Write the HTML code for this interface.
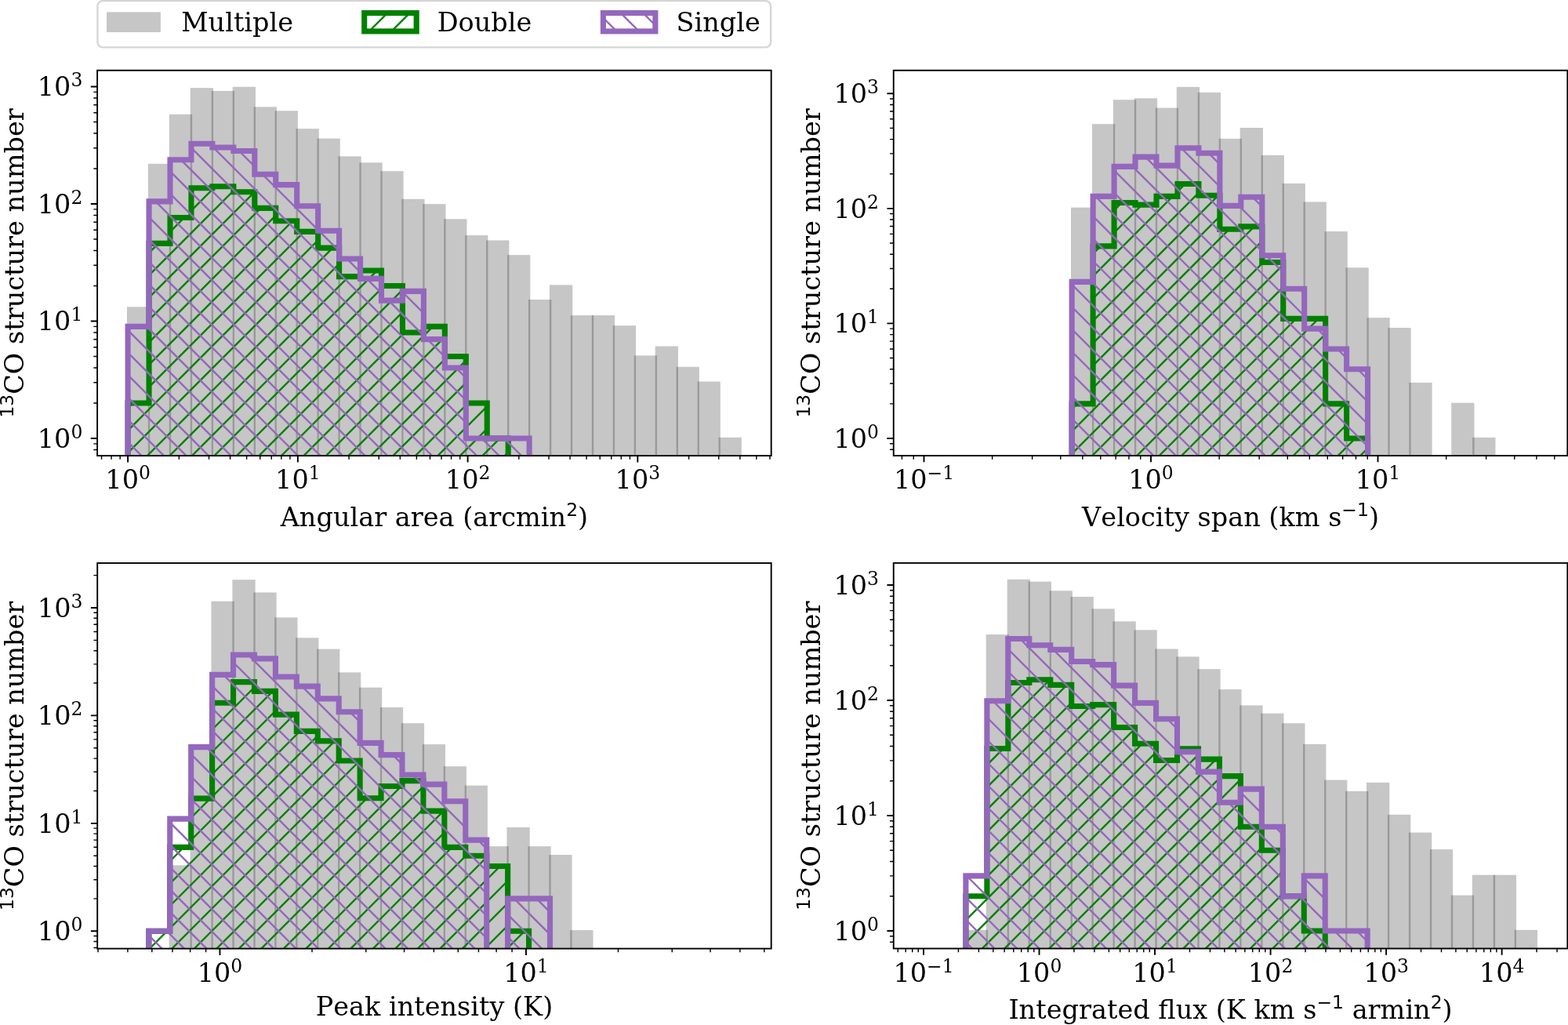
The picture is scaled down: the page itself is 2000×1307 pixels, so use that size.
<!DOCTYPE html><html><head><meta charset="utf-8"><title>13CO structure histograms</title><style>html,body{margin:0;padding:0;background:#fff;overflow:hidden}svg{display:block}text{font-kerning:none}</style></head><body><svg width="2000" height="1307" viewBox="0 0 2000 1307"><defs><clipPath id="cp1"><rect x="124.1" y="89.75" width="859.6" height="491.35"/></clipPath><clipPath id="hp1green"><path d="M163.1 601.1L163.1 514L190.05 514L190.05 310.42L217 310.42L217 277.56L243.95 277.56L243.95 239.7L270.9 239.7L270.9 237.69L297.85 237.69L297.85 244.79L324.8 244.79L324.8 265.34L351.75 265.34L351.75 281.69L378.7 281.69L378.7 295.37L405.65 295.37L405.65 316.17L432.6 316.17L432.6 352.66L459.55 352.66L459.55 345.01L486.5 345.01L486.5 364.5L513.45 364.5L513.45 423.99L540.4 423.99L540.4 416.34L567.35 416.34L567.35 454.5L594.3 454.5L594.3 514L621.25 514L621.25 559L648.2 559L648.2 601.1Z"/></clipPath><clipPath id="hp1purple"><path d="M163.1 601.1L163.1 416.34L190.05 416.34L190.05 256.83L217 256.83L217 203.81L243.95 203.81L243.95 183.27L270.9 183.27L270.9 188.02L297.85 188.02L297.85 192.46L324.8 192.46L324.8 222.2L351.75 222.2L351.75 235.61L378.7 235.61L378.7 262.79L405.65 262.79L405.65 294.26L432.6 294.26L432.6 330.04L459.55 330.04L459.55 355.42L486.5 355.42L486.5 383.17L513.45 383.17L513.45 371.34L540.4 371.34L540.4 432.66L567.35 432.66L567.35 468.99L594.3 468.99L594.3 559L621.25 559L621.25 559L648.2 559L648.2 559L675.15 559L675.15 601.1Z"/></clipPath><clipPath id="cp2"><rect x="1139.75" y="89.75" width="859.6" height="491.3"/></clipPath><clipPath id="hp2green"><path d="M1367.18 601.05L1367.18 514.88L1394.14 514.88L1394.14 313.9L1421.1 313.9L1421.1 258.51L1448.05 258.51L1448.05 261.18L1475.01 261.18L1475.01 250.32L1501.96 250.32L1501.96 234.5L1528.91 234.5L1528.91 249.29L1555.87 249.29L1555.87 292.29L1582.83 292.29L1582.83 288.91L1609.78 288.91L1609.78 334.52L1636.73 334.52L1636.73 406.35L1663.69 406.35L1663.69 406.35L1690.64 406.35L1690.64 514.88L1717.6 514.88L1717.6 559L1744.55 559L1744.55 601.05Z"/></clipPath><clipPath id="hp2purple"><path d="M1367.18 601.05L1367.18 359.4L1394.14 359.4L1394.14 250.32L1421.1 250.32L1421.1 212.38L1448.05 212.38L1448.05 200.09L1475.01 200.09L1475.01 211.18L1501.96 211.18L1501.96 188.78L1528.91 188.78L1528.91 195.21L1555.87 195.21L1555.87 262.37L1582.83 262.37L1582.83 251.28L1609.78 251.28L1609.78 325.78L1636.73 325.78L1636.73 368.3L1663.69 368.3L1663.69 419.13L1690.64 419.13L1690.64 444.94L1717.6 444.94L1717.6 470.75L1744.55 470.75L1744.55 601.05Z"/></clipPath><clipPath id="cp3"><rect x="124.2" y="718" width="859.5" height="491.6"/></clipPath><clipPath id="hp3green"><path d="M162.9 1229.6L162.9 1229.6L189.83 1229.6L189.83 1187.25L216.76 1187.25L216.76 1080.32L243.69 1080.32L243.69 1018.16L270.62 1018.16L270.62 896.2L297.55 896.2L297.55 869.63L324.48 869.63L324.48 881.41L351.41 881.41L351.41 911.11L378.34 911.11L378.34 932.35L405.27 932.35L405.27 944.82L432.2 944.82L432.2 970L459.13 970L459.13 1017.81L486.06 1017.81L486.06 1002.5L512.99 1002.5L512.99 995.62L539.92 995.62L539.92 1034.17L566.85 1034.17L566.85 1080.32L593.78 1080.32L593.78 1091.2L620.71 1091.2L620.71 1104.51L647.64 1104.51L647.64 1187.25L674.57 1187.25L674.57 1229.6Z"/></clipPath><clipPath id="hp3purple"><path d="M162.9 1229.6L162.9 1229.6L189.83 1229.6L189.83 1187.25L216.76 1187.25L216.76 1044.14L243.69 1044.14L243.69 952.6L270.62 952.6L270.62 860.41L297.55 860.41L297.55 834.98L324.48 834.98L324.48 839.9L351.41 839.9L351.41 862.96L378.34 862.96L378.34 875.18L405.27 875.18L405.27 890.86L432.2 890.86L432.2 907.71L459.13 907.71L459.13 947.33L486.06 947.33L486.06 962.64L512.99 962.64L512.99 987.96L539.92 987.96L539.92 1000.12L566.85 1000.12L566.85 1021.78L593.78 1021.78L593.78 1071.12L620.71 1071.12L620.71 1229.6L647.64 1229.6L647.64 1145.88L674.57 1145.88L674.57 1145.88L701.5 1145.88L701.5 1229.6Z"/></clipPath><clipPath id="cp4"><rect x="1139.75" y="717.9" width="859.6" height="491.6"/></clipPath><clipPath id="hp4green"><path d="M1178 1229.5L1178 1229.5L1204.96 1229.5L1204.96 1229.5L1231.92 1229.5L1231.92 1142.75L1258.88 1142.75L1258.88 954.44L1285.84 954.44L1285.84 870.48L1312.8 870.48L1312.8 866.69L1339.76 866.69L1339.76 873.32L1366.72 873.32L1366.72 900.51L1393.68 900.51L1393.68 898.67L1420.64 898.67L1420.64 927.45L1447.6 927.45L1447.6 948.23L1474.56 948.23L1474.56 969.44L1501.52 969.44L1501.52 954.77L1528.48 954.77L1528.48 968.18L1555.44 968.18L1555.44 989.66L1582.4 989.66L1582.4 1054.25L1609.36 1054.25L1609.36 1084.25L1636.32 1084.25L1636.32 1142.75L1663.28 1142.75L1663.28 1187L1690.24 1187L1690.24 1229.5Z"/></clipPath><clipPath id="hp4purple"><path d="M1178 1229.5L1178 1229.5L1204.96 1229.5L1204.96 1229.5L1231.92 1229.5L1231.92 1116.86L1258.88 1116.86L1258.88 893.71L1285.84 893.71L1285.84 814.5L1312.8 814.5L1312.8 822.8L1339.76 822.8L1339.76 828.35L1366.72 828.35L1366.72 843.48L1393.68 843.48L1393.68 847.61L1420.64 847.61L1420.64 874.13L1447.6 874.13L1447.6 896.41L1474.56 896.41L1474.56 916.69L1501.52 916.69L1501.52 958.58L1528.48 958.58L1528.48 984.11L1555.44 984.11L1555.44 1023.25L1582.4 1023.25L1582.4 1006.12L1609.36 1006.12L1609.36 1054.25L1636.32 1054.25L1636.32 1142.75L1663.28 1142.75L1663.28 1116.86L1690.24 1116.86L1690.24 1187L1717.2 1187L1717.2 1187L1744.16 1187L1744.16 1229.5Z"/></clipPath><clipPath id="lg1"><rect x="464.7" y="16.6" width="66.5" height="23.3"/></clipPath><clipPath id="lg2"><rect x="769.4" y="16.6" width="66.5" height="23.3"/></clipPath></defs><rect width="2000" height="1307" fill="#fff"/><g clip-path="url(#cp1)"><g fill="#000000" fill-opacity="0.2235"><rect x="161.91" y="391.28" width="29.32" height="199.82"/><rect x="188.86" y="208.81" width="29.33" height="382.29"/><rect x="215.81" y="145.81" width="29.32" height="445.29"/><rect x="242.76" y="112.1" width="29.32" height="479"/><rect x="269.71" y="115.94" width="29.33" height="475.16"/><rect x="296.66" y="110.69" width="29.32" height="480.41"/><rect x="323.61" y="136.29" width="29.33" height="454.81"/><rect x="350.56" y="141.3" width="29.32" height="449.8"/><rect x="377.51" y="164.11" width="29.32" height="426.99"/><rect x="404.46" y="176.55" width="29.33" height="414.55"/><rect x="431.41" y="199.32" width="29.32" height="391.78"/><rect x="458.36" y="207.33" width="29.33" height="383.77"/><rect x="485.31" y="218.17" width="29.32" height="372.93"/><rect x="512.26" y="253.82" width="29.33" height="337.28"/><rect x="539.21" y="260.12" width="29.33" height="330.98"/><rect x="566.16" y="279.25" width="29.32" height="311.85"/><rect x="593.11" y="300.03" width="29.33" height="291.07"/><rect x="620.06" y="306.47" width="29.32" height="284.63"/><rect x="647.01" y="325.15" width="29.33" height="265.95"/><rect x="673.96" y="381.99" width="29.33" height="209.11"/><rect x="700.91" y="363.31" width="29.32" height="227.79"/><rect x="727.86" y="402.12" width="29.33" height="188.98"/><rect x="754.81" y="402.12" width="29.33" height="188.98"/><rect x="781.76" y="415.15" width="29.32" height="175.95"/><rect x="808.71" y="453.32" width="29.33" height="137.78"/><rect x="835.66" y="441.48" width="29.32" height="149.62"/><rect x="862.61" y="467.8" width="29.33" height="123.3"/><rect x="889.56" y="486.48" width="29.33" height="104.62"/><rect x="916.51" y="557.81" width="29.32" height="33.29"/></g><g clip-path="url(#hp1green)"><path d="M158.1 211.9L653.2 -283.2M158.1 240.4L653.2 -254.7M158.1 268.9L653.2 -226.2M158.1 297.4L653.2 -197.7M158.1 325.9L653.2 -169.2M158.1 354.4L653.2 -140.7M158.1 382.9L653.2 -112.2M158.1 411.4L653.2 -83.7M158.1 439.9L653.2 -55.2M158.1 468.4L653.2 -26.7M158.1 496.9L653.2 1.8M158.1 525.4L653.2 30.3M158.1 553.9L653.2 58.8M158.1 582.4L653.2 87.3M158.1 610.9L653.2 115.8M158.1 639.4L653.2 144.3M158.1 667.9L653.2 172.8M158.1 696.4L653.2 201.3M158.1 724.9L653.2 229.8M158.1 753.4L653.2 258.3M158.1 781.9L653.2 286.8M158.1 810.4L653.2 315.3M158.1 838.9L653.2 343.8M158.1 867.4L653.2 372.3M158.1 895.9L653.2 400.8M158.1 924.4L653.2 429.3M158.1 952.9L653.2 457.8M158.1 981.4L653.2 486.3M158.1 1009.9L653.2 514.8M158.1 1038.4L653.2 543.3M158.1 1066.9L653.2 571.8M158.1 1095.4L653.2 600.3M158.1 1123.9L653.2 628.8" stroke="#008000" stroke-width="2.38" fill="none"/></g><path d="M163.1 601.1L163.1 514L190.05 514L190.05 310.42L217 310.42L217 277.56L243.95 277.56L243.95 239.7L270.9 239.7L270.9 237.69L297.85 237.69L297.85 244.79L324.8 244.79L324.8 265.34L351.75 265.34L351.75 281.69L378.7 281.69L378.7 295.37L405.65 295.37L405.65 316.17L432.6 316.17L432.6 352.66L459.55 352.66L459.55 345.01L486.5 345.01L486.5 364.5L513.45 364.5L513.45 423.99L540.4 423.99L540.4 416.34L567.35 416.34L567.35 454.5L594.3 454.5L594.3 514L621.25 514L621.25 559L648.2 559L648.2 601.1" fill="none" stroke="#008000" stroke-width="7.12" stroke-linejoin="miter" stroke-miterlimit="10"/><g clip-path="url(#hp1purple)"><path d="M158.1 -381.9L680.15 140.15M158.1 -353.4L680.15 168.65M158.1 -324.9L680.15 197.15M158.1 -296.4L680.15 225.65M158.1 -267.9L680.15 254.15M158.1 -239.4L680.15 282.65M158.1 -210.9L680.15 311.15M158.1 -182.4L680.15 339.65M158.1 -153.9L680.15 368.15M158.1 -125.4L680.15 396.65M158.1 -96.9L680.15 425.15M158.1 -68.4L680.15 453.65M158.1 -39.9L680.15 482.15M158.1 -11.4L680.15 510.65M158.1 17.1L680.15 539.15M158.1 45.6L680.15 567.65M158.1 74.1L680.15 596.15M158.1 102.6L680.15 624.65M158.1 131.1L680.15 653.15M158.1 159.6L680.15 681.65M158.1 188.1L680.15 710.15M158.1 216.6L680.15 738.65M158.1 245.1L680.15 767.15M158.1 273.6L680.15 795.65M158.1 302.1L680.15 824.15M158.1 330.6L680.15 852.65M158.1 359.1L680.15 881.15M158.1 387.6L680.15 909.65M158.1 416.1L680.15 938.15M158.1 444.6L680.15 966.65M158.1 473.1L680.15 995.15M158.1 501.6L680.15 1023.65M158.1 530.1L680.15 1052.15M158.1 558.6L680.15 1080.65M158.1 587.1L680.15 1109.15M158.1 615.6L680.15 1137.65" stroke="#9467bd" stroke-width="2.38" fill="none"/></g><path d="M163.1 601.1L163.1 416.34L190.05 416.34L190.05 256.83L217 256.83L217 203.81L243.95 203.81L243.95 183.27L270.9 183.27L270.9 188.02L297.85 188.02L297.85 192.46L324.8 192.46L324.8 222.2L351.75 222.2L351.75 235.61L378.7 235.61L378.7 262.79L405.65 262.79L405.65 294.26L432.6 294.26L432.6 330.04L459.55 330.04L459.55 355.42L486.5 355.42L486.5 383.17L513.45 383.17L513.45 371.34L540.4 371.34L540.4 432.66L567.35 432.66L567.35 468.99L594.3 468.99L594.3 559L621.25 559L621.25 559L648.2 559L648.2 559L675.15 559L675.15 601.1" fill="none" stroke="#9467bd" stroke-width="7.12" stroke-linejoin="miter" stroke-miterlimit="10"/></g><rect x="124.1" y="89.75" width="859.6" height="491.35" fill="none" stroke="#000" stroke-width="1.9" stroke-linejoin="miter"/><path d="M163.1 581.1v8.31M379.85 581.1v8.31M596.6 581.1v8.31M813.35 581.1v8.31M124.1 559h-8.31M124.1 409.5h-8.31M124.1 260h-8.31M124.1 110.5h-8.31" stroke="#000" stroke-width="1.9" fill="none"/><path d="M129.53 581.1v4.75M142.09 581.1v4.75M153.18 581.1v4.75M228.35 581.1v4.75M266.52 581.1v4.75M293.6 581.1v4.75M314.6 581.1v4.75M331.76 581.1v4.75M346.28 581.1v4.75M358.84 581.1v4.75M369.93 581.1v4.75M445.1 581.1v4.75M483.27 581.1v4.75M510.35 581.1v4.75M531.35 581.1v4.75M548.51 581.1v4.75M563.03 581.1v4.75M575.59 581.1v4.75M586.68 581.1v4.75M661.85 581.1v4.75M700.02 581.1v4.75M727.1 581.1v4.75M748.1 581.1v4.75M765.26 581.1v4.75M779.78 581.1v4.75M792.34 581.1v4.75M803.43 581.1v4.75M878.6 581.1v4.75M916.77 581.1v4.75M943.85 581.1v4.75M964.85 581.1v4.75M982.01 581.1v4.75M124.1 573.49h-4.75M124.1 565.84h-4.75M124.1 514h-4.75M124.1 487.67h-4.75M124.1 468.99h-4.75M124.1 454.5h-4.75M124.1 442.67h-4.75M124.1 432.66h-4.75M124.1 423.99h-4.75M124.1 416.34h-4.75M124.1 364.5h-4.75M124.1 338.17h-4.75M124.1 319.49h-4.75M124.1 305h-4.75M124.1 293.17h-4.75M124.1 283.16h-4.75M124.1 274.49h-4.75M124.1 266.84h-4.75M124.1 215h-4.75M124.1 188.67h-4.75M124.1 169.99h-4.75M124.1 155.5h-4.75M124.1 143.67h-4.75M124.1 133.66h-4.75M124.1 124.99h-4.75M124.1 117.34h-4.75" stroke="#000" stroke-width="1.43" fill="none"/><g font-family="'DejaVu Serif', serif" font-size="33.5" fill="#000"><text x="163.1" y="623.1" text-anchor="middle">10<tspan font-size="23.45" dy="-12">0</tspan></text><text x="379.85" y="623.1" text-anchor="middle">10<tspan font-size="23.45" dy="-12">1</tspan></text><text x="596.6" y="623.1" text-anchor="middle">10<tspan font-size="23.45" dy="-12">2</tspan></text><text x="813.35" y="623.1" text-anchor="middle">10<tspan font-size="23.45" dy="-12">3</tspan></text><text x="105.3" y="570.75" text-anchor="end">10<tspan font-size="23.45" dy="-12">0</tspan></text><text x="105.3" y="421.25" text-anchor="end">10<tspan font-size="23.45" dy="-12">1</tspan></text><text x="105.3" y="271.75" text-anchor="end">10<tspan font-size="23.45" dy="-12">2</tspan></text><text x="105.3" y="122.25" text-anchor="end">10<tspan font-size="23.45" dy="-12">3</tspan></text></g><text x="553.9" y="671.3" text-anchor="middle" font-family="'DejaVu Serif', serif" font-size="33.5">Angular area (arcmin<tspan font-family="'DejaVu Sans', sans-serif" font-size="23.45" dy="-13">2</tspan><tspan dy="13">)</tspan></text><text transform="translate(30.3 335.43) rotate(-90)" x="0" y="0" text-anchor="middle" font-family="'DejaVu Serif', serif" font-size="33.5"><tspan font-family="'DejaVu Sans', sans-serif" font-size="23.45" dy="-13">13</tspan><tspan dy="13">CO structure number</tspan></text><g clip-path="url(#cp2)"><g fill="#000000" fill-opacity="0.2235"><rect x="1366" y="264.65" width="29.33" height="326.4"/><rect x="1392.95" y="158.13" width="29.33" height="432.92"/><rect x="1419.91" y="127.23" width="29.33" height="463.82"/><rect x="1446.86" y="125.28" width="29.33" height="465.77"/><rect x="1473.82" y="137.59" width="29.33" height="453.46"/><rect x="1500.77" y="110.86" width="29.33" height="480.19"/><rect x="1527.73" y="117.88" width="29.33" height="473.17"/><rect x="1554.68" y="176.88" width="29.33" height="414.17"/><rect x="1581.64" y="162.97" width="29.33" height="428.08"/><rect x="1608.59" y="197.98" width="29.33" height="393.07"/><rect x="1635.55" y="233.94" width="29.33" height="357.11"/><rect x="1662.5" y="257.44" width="29.33" height="333.61"/><rect x="1689.46" y="295.08" width="29.33" height="295.97"/><rect x="1716.41" y="341.3" width="29.33" height="249.75"/><rect x="1743.37" y="405.17" width="29.33" height="185.88"/><rect x="1770.32" y="417.94" width="29.33" height="173.11"/><rect x="1797.28" y="487.88" width="29.33" height="103.17"/><rect x="1851.19" y="513.69" width="29.33" height="77.36"/><rect x="1878.14" y="557.81" width="29.33" height="33.24"/></g><g clip-path="url(#hp2green)"><path d="M1362.18 184.52L1749.55 -202.85M1362.18 213.02L1749.55 -174.35M1362.18 241.52L1749.55 -145.85M1362.18 270.02L1749.55 -117.35M1362.18 298.52L1749.55 -88.85M1362.18 327.02L1749.55 -60.35M1362.18 355.52L1749.55 -31.85M1362.18 384.02L1749.55 -3.35M1362.18 412.52L1749.55 25.15M1362.18 441.02L1749.55 53.65M1362.18 469.52L1749.55 82.15M1362.18 498.02L1749.55 110.65M1362.18 526.52L1749.55 139.15M1362.18 555.02L1749.55 167.65M1362.18 583.52L1749.55 196.15M1362.18 612.02L1749.55 224.65M1362.18 640.52L1749.55 253.15M1362.18 669.02L1749.55 281.65M1362.18 697.51L1749.55 310.14M1362.18 726.01L1749.55 338.64M1362.18 754.51L1749.55 367.14M1362.18 783.01L1749.55 395.64M1362.18 811.51L1749.55 424.14M1362.18 840.01L1749.55 452.64M1362.18 868.51L1749.55 481.14M1362.18 897.01L1749.55 509.64M1362.18 925.51L1749.55 538.14M1362.18 954.01L1749.55 566.64M1362.18 982.51L1749.55 595.14M1362.18 1011.01L1749.55 623.64" stroke="#008000" stroke-width="2.38" fill="none"/></g><path d="M1367.18 601.05L1367.18 514.88L1394.14 514.88L1394.14 313.9L1421.1 313.9L1421.1 258.51L1448.05 258.51L1448.05 261.18L1475.01 261.18L1475.01 250.32L1501.96 250.32L1501.96 234.5L1528.91 234.5L1528.91 249.29L1555.87 249.29L1555.87 292.29L1582.83 292.29L1582.83 288.91L1609.78 288.91L1609.78 334.52L1636.73 334.52L1636.73 406.35L1663.69 406.35L1663.69 406.35L1690.64 406.35L1690.64 514.88L1717.6 514.88L1717.6 559L1744.55 559L1744.55 601.05" fill="none" stroke="#008000" stroke-width="7.12" stroke-linejoin="miter" stroke-miterlimit="10"/><g clip-path="url(#hp2purple)"><path d="M1362.18 -240.65L1749.55 146.71M1362.18 -212.15L1749.55 175.21M1362.18 -183.65L1749.55 203.71M1362.18 -155.15L1749.55 232.21M1362.18 -126.65L1749.55 260.71M1362.18 -98.15L1749.55 289.21M1362.18 -69.65L1749.55 317.71M1362.18 -41.15L1749.55 346.21M1362.18 -12.65L1749.55 374.71M1362.18 15.85L1749.55 403.21M1362.18 44.35L1749.55 431.71M1362.18 72.85L1749.55 460.21M1362.18 101.35L1749.55 488.71M1362.18 129.85L1749.55 517.21M1362.18 158.35L1749.55 545.71M1362.18 186.85L1749.55 574.21M1362.18 215.35L1749.55 602.71M1362.18 243.85L1749.55 631.21M1362.18 272.35L1749.55 659.71M1362.18 300.85L1749.55 688.21M1362.18 329.35L1749.55 716.71M1362.18 357.84L1749.55 745.21M1362.18 386.34L1749.55 773.71M1362.18 414.84L1749.55 802.21M1362.18 443.34L1749.55 830.71M1362.18 471.84L1749.55 859.21M1362.18 500.34L1749.55 887.71M1362.18 528.84L1749.55 916.21M1362.18 557.34L1749.55 944.71M1362.18 585.84L1749.55 973.21M1362.18 614.34L1749.55 1001.71" stroke="#9467bd" stroke-width="2.38" fill="none"/></g><path d="M1367.18 601.05L1367.18 359.4L1394.14 359.4L1394.14 250.32L1421.1 250.32L1421.1 212.38L1448.05 212.38L1448.05 200.09L1475.01 200.09L1475.01 211.18L1501.96 211.18L1501.96 188.78L1528.91 188.78L1528.91 195.21L1555.87 195.21L1555.87 262.37L1582.83 262.37L1582.83 251.28L1609.78 251.28L1609.78 325.78L1636.73 325.78L1636.73 368.3L1663.69 368.3L1663.69 419.13L1690.64 419.13L1690.64 444.94L1717.6 444.94L1717.6 470.75L1744.55 470.75L1744.55 601.05" fill="none" stroke="#9467bd" stroke-width="7.12" stroke-linejoin="miter" stroke-miterlimit="10"/></g><rect x="1139.75" y="89.75" width="859.6" height="491.3" fill="none" stroke="#000" stroke-width="1.9" stroke-linejoin="miter"/><path d="M1178.5 581.05v8.31M1468 581.05v8.31M1757.5 581.05v8.31M1139.75 559h-8.31M1139.75 412.42h-8.31M1139.75 265.84h-8.31M1139.75 119.26h-8.31" stroke="#000" stroke-width="1.9" fill="none"/><path d="M1150.44 581.05v4.75M1165.25 581.05v4.75M1265.65 581.05v4.75M1316.63 581.05v4.75M1352.8 581.05v4.75M1380.85 581.05v4.75M1403.77 581.05v4.75M1423.16 581.05v4.75M1439.94 581.05v4.75M1454.75 581.05v4.75M1555.15 581.05v4.75M1606.13 581.05v4.75M1642.3 581.05v4.75M1670.35 581.05v4.75M1693.27 581.05v4.75M1712.66 581.05v4.75M1729.44 581.05v4.75M1744.25 581.05v4.75M1844.65 581.05v4.75M1895.63 581.05v4.75M1931.8 581.05v4.75M1959.85 581.05v4.75M1982.77 581.05v4.75M1139.75 573.21h-4.75M1139.75 565.71h-4.75M1139.75 514.88h-4.75M1139.75 489.06h-4.75M1139.75 470.75h-4.75M1139.75 456.54h-4.75M1139.75 444.94h-4.75M1139.75 435.13h-4.75M1139.75 426.63h-4.75M1139.75 419.13h-4.75M1139.75 368.3h-4.75M1139.75 342.48h-4.75M1139.75 324.17h-4.75M1139.75 309.96h-4.75M1139.75 298.36h-4.75M1139.75 288.55h-4.75M1139.75 280.05h-4.75M1139.75 272.55h-4.75M1139.75 221.72h-4.75M1139.75 195.9h-4.75M1139.75 177.59h-4.75M1139.75 163.38h-4.75M1139.75 151.78h-4.75M1139.75 141.97h-4.75M1139.75 133.47h-4.75M1139.75 125.97h-4.75" stroke="#000" stroke-width="1.43" fill="none"/><g font-family="'DejaVu Serif', serif" font-size="33.5" fill="#000"><text x="1178.5" y="623.05" text-anchor="middle">10<tspan font-size="23.45" dy="-12">−1</tspan></text><text x="1468" y="623.05" text-anchor="middle">10<tspan font-size="23.45" dy="-12">0</tspan></text><text x="1757.5" y="623.05" text-anchor="middle">10<tspan font-size="23.45" dy="-12">1</tspan></text><text x="1120.95" y="570.75" text-anchor="end">10<tspan font-size="23.45" dy="-12">0</tspan></text><text x="1120.95" y="424.17" text-anchor="end">10<tspan font-size="23.45" dy="-12">1</tspan></text><text x="1120.95" y="277.59" text-anchor="end">10<tspan font-size="23.45" dy="-12">2</tspan></text><text x="1120.95" y="131.01" text-anchor="end">10<tspan font-size="23.45" dy="-12">3</tspan></text></g><text x="1569.55" y="671" text-anchor="middle" font-family="'DejaVu Serif', serif" font-size="33.5">Velocity span (km s<tspan font-family="'DejaVu Sans', sans-serif" font-size="23.45" dy="-13">−1</tspan><tspan dy="13">)</tspan></text><text transform="translate(1045.95 335.4) rotate(-90)" x="0" y="0" text-anchor="middle" font-family="'DejaVu Serif', serif" font-size="33.5"><tspan font-family="'DejaVu Sans', sans-serif" font-size="23.45" dy="-13">13</tspan><tspan dy="13">CO structure number</tspan></text><g clip-path="url(#cp3)"><g fill="#000000" fill-opacity="0.2235"><rect x="215.57" y="1103.33" width="29.31" height="116.27"/><rect x="242.5" y="951.41" width="29.31" height="268.19"/><rect x="269.43" y="766.67" width="29.31" height="452.93"/><rect x="296.36" y="739.22" width="29.31" height="480.38"/><rect x="323.29" y="755.45" width="29.3" height="464.15"/><rect x="350.22" y="787.34" width="29.31" height="432.26"/><rect x="377.15" y="813.29" width="29.3" height="406.31"/><rect x="404.08" y="827.6" width="29.31" height="392"/><rect x="431.01" y="857.38" width="29.3" height="362.22"/><rect x="457.94" y="876.68" width="29.3" height="342.92"/><rect x="484.87" y="901.95" width="29.31" height="317.65"/><rect x="511.8" y="922.2" width="29.3" height="297.4"/><rect x="538.73" y="949.11" width="29.31" height="270.49"/><rect x="565.66" y="977.21" width="29.3" height="242.39"/><rect x="592.59" y="1001.59" width="29.31" height="218.01"/><rect x="619.52" y="1079.13" width="29.3" height="140.47"/><rect x="646.45" y="1054.93" width="29.31" height="164.67"/><rect x="673.38" y="1079.13" width="29.3" height="140.47"/><rect x="700.31" y="1090.01" width="29.3" height="129.59"/><rect x="727.24" y="1186.06" width="29.31" height="33.54"/></g><g clip-path="url(#hp3green)"><path d="M157.9 843.5L679.57 321.83M157.9 872L679.57 350.33M157.9 900.5L679.57 378.83M157.9 929L679.57 407.33M157.9 957.5L679.57 435.83M157.9 986L679.57 464.33M157.9 1014.5L679.57 492.83M157.9 1043L679.57 521.33M157.9 1071.5L679.57 549.83M157.9 1100L679.57 578.33M157.9 1128.5L679.57 606.83M157.9 1157L679.57 635.33M157.9 1185.5L679.57 663.83M157.9 1214L679.57 692.33M157.9 1242.5L679.57 720.83M157.9 1271L679.57 749.33M157.9 1299.5L679.57 777.83M157.9 1328L679.57 806.33M157.9 1356.5L679.57 834.83M157.9 1385L679.57 863.33M157.9 1413.5L679.57 891.83M157.9 1442L679.57 920.33M157.9 1470.5L679.57 948.83M157.9 1499L679.57 977.33M157.9 1527.5L679.57 1005.83M157.9 1556L679.57 1034.33M157.9 1584.5L679.57 1062.83M157.9 1613L679.57 1091.33M157.9 1641.5L679.57 1119.83M157.9 1670L679.57 1148.33M157.9 1698.5L679.57 1176.83M157.9 1727L679.57 1205.33M157.9 1755.5L679.57 1233.83M157.9 1784L679.57 1262.33" stroke="#008000" stroke-width="2.38" fill="none"/></g><path d="M162.9 1229.6L162.9 1229.6L189.83 1229.6L189.83 1187.25L216.76 1187.25L216.76 1080.32L243.69 1080.32L243.69 1018.16L270.62 1018.16L270.62 896.2L297.55 896.2L297.55 869.63L324.48 869.63L324.48 881.41L351.41 881.41L351.41 911.11L378.34 911.11L378.34 932.35L405.27 932.35L405.27 944.82L432.2 944.82L432.2 970L459.13 970L459.13 1017.81L486.06 1017.81L486.06 1002.5L512.99 1002.5L512.99 995.62L539.92 995.62L539.92 1034.17L566.85 1034.17L566.85 1080.32L593.78 1080.32L593.78 1091.2L620.71 1091.2L620.71 1104.51L647.64 1104.51L647.64 1187.25L674.57 1187.25L674.57 1229.6" fill="none" stroke="#008000" stroke-width="7.12" stroke-linejoin="miter" stroke-miterlimit="10"/><g clip-path="url(#hp3purple)"><path d="M157.9 248.9L706.5 797.5M157.9 277.4L706.5 826M157.9 305.9L706.5 854.5M157.9 334.4L706.5 883M157.9 362.9L706.5 911.5M157.9 391.4L706.5 940M157.9 419.9L706.5 968.5M157.9 448.4L706.5 997M157.9 476.9L706.5 1025.5M157.9 505.4L706.5 1054M157.9 533.9L706.5 1082.5M157.9 562.4L706.5 1111M157.9 590.9L706.5 1139.5M157.9 619.4L706.5 1168M157.9 647.9L706.5 1196.5M157.9 676.4L706.5 1225M157.9 704.9L706.5 1253.5M157.9 733.4L706.5 1282M157.9 761.9L706.5 1310.5M157.9 790.4L706.5 1339M157.9 818.9L706.5 1367.5M157.9 847.4L706.5 1396M157.9 875.9L706.5 1424.5M157.9 904.4L706.5 1453M157.9 932.9L706.5 1481.5M157.9 961.4L706.5 1510M157.9 989.9L706.5 1538.5M157.9 1018.4L706.5 1567M157.9 1046.9L706.5 1595.5M157.9 1075.4L706.5 1624M157.9 1103.9L706.5 1652.5M157.9 1132.4L706.5 1681M157.9 1160.9L706.5 1709.5M157.9 1189.4L706.5 1738M157.9 1217.9L706.5 1766.5M157.9 1246.4L706.5 1795" stroke="#9467bd" stroke-width="2.38" fill="none"/></g><path d="M162.9 1229.6L162.9 1229.6L189.83 1229.6L189.83 1187.25L216.76 1187.25L216.76 1044.14L243.69 1044.14L243.69 952.6L270.62 952.6L270.62 860.41L297.55 860.41L297.55 834.98L324.48 834.98L324.48 839.9L351.41 839.9L351.41 862.96L378.34 862.96L378.34 875.18L405.27 875.18L405.27 890.86L432.2 890.86L432.2 907.71L459.13 907.71L459.13 947.33L486.06 947.33L486.06 962.64L512.99 962.64L512.99 987.96L539.92 987.96L539.92 1000.12L566.85 1000.12L566.85 1021.78L593.78 1021.78L593.78 1071.12L620.71 1071.12L620.71 1229.6L647.64 1229.6L647.64 1145.88L674.57 1145.88L674.57 1145.88L701.5 1145.88L701.5 1229.6" fill="none" stroke="#9467bd" stroke-width="7.12" stroke-linejoin="miter" stroke-miterlimit="10"/></g><rect x="124.2" y="718" width="859.5" height="491.6" fill="none" stroke="#000" stroke-width="1.9" stroke-linejoin="miter"/><path d="M280.45 1209.6v8.31M670.95 1209.6v8.31M124.2 1187.25h-8.31M124.2 1049.83h-8.31M124.2 912.41h-8.31M124.2 774.99h-8.31" stroke="#000" stroke-width="1.9" fill="none"/><path d="M125.05 1209.6v4.75M162.9 1209.6v4.75M193.82 1209.6v4.75M219.96 1209.6v4.75M242.61 1209.6v4.75M262.58 1209.6v4.75M398 1209.6v4.75M466.77 1209.6v4.75M515.55 1209.6v4.75M553.4 1209.6v4.75M584.32 1209.6v4.75M610.46 1209.6v4.75M633.11 1209.6v4.75M653.08 1209.6v4.75M788.5 1209.6v4.75M857.27 1209.6v4.75M906.05 1209.6v4.75M943.9 1209.6v4.75M974.82 1209.6v4.75M124.2 1208.54h-4.75M124.2 1200.57h-4.75M124.2 1193.54h-4.75M124.2 1145.88h-4.75M124.2 1121.68h-4.75M124.2 1104.51h-4.75M124.2 1091.2h-4.75M124.2 1080.32h-4.75M124.2 1071.12h-4.75M124.2 1063.15h-4.75M124.2 1056.12h-4.75M124.2 1008.46h-4.75M124.2 984.26h-4.75M124.2 967.09h-4.75M124.2 953.78h-4.75M124.2 942.9h-4.75M124.2 933.7h-4.75M124.2 925.73h-4.75M124.2 918.7h-4.75M124.2 871.04h-4.75M124.2 846.84h-4.75M124.2 829.67h-4.75M124.2 816.36h-4.75M124.2 805.48h-4.75M124.2 796.28h-4.75M124.2 788.31h-4.75M124.2 781.28h-4.75M124.2 733.62h-4.75" stroke="#000" stroke-width="1.43" fill="none"/><g font-family="'DejaVu Serif', serif" font-size="33.5" fill="#000"><text x="280.45" y="1251.6" text-anchor="middle">10<tspan font-size="23.45" dy="-12">0</tspan></text><text x="670.95" y="1251.6" text-anchor="middle">10<tspan font-size="23.45" dy="-12">1</tspan></text><text x="105.4" y="1199" text-anchor="end">10<tspan font-size="23.45" dy="-12">0</tspan></text><text x="105.4" y="1061.58" text-anchor="end">10<tspan font-size="23.45" dy="-12">1</tspan></text><text x="105.4" y="924.16" text-anchor="end">10<tspan font-size="23.45" dy="-12">2</tspan></text><text x="105.4" y="786.74" text-anchor="end">10<tspan font-size="23.45" dy="-12">3</tspan></text></g><text x="553.95" y="1294.6" text-anchor="middle" font-family="'DejaVu Serif', serif" font-size="33.5">Peak intensity (K)</text><text transform="translate(30.4 963.8) rotate(-90)" x="0" y="0" text-anchor="middle" font-family="'DejaVu Serif', serif" font-size="33.5"><tspan font-family="'DejaVu Sans', sans-serif" font-size="23.45" dy="-13">13</tspan><tspan dy="13">CO structure number</tspan></text><g clip-path="url(#cp4)"><g fill="#000000" fill-opacity="0.2235"><rect x="1230.73" y="1185.81" width="29.34" height="33.69"/><rect x="1257.69" y="809.07" width="29.33" height="410.43"/><rect x="1284.65" y="738.84" width="29.34" height="480.66"/><rect x="1311.61" y="741.58" width="29.34" height="477.92"/><rect x="1338.57" y="753.26" width="29.34" height="466.24"/><rect x="1365.53" y="760.92" width="29.34" height="458.58"/><rect x="1392.49" y="776.26" width="29.34" height="443.24"/><rect x="1419.45" y="792.34" width="29.33" height="427.16"/><rect x="1446.41" y="803.31" width="29.34" height="416.19"/><rect x="1473.37" y="827.46" width="29.34" height="392.04"/><rect x="1500.33" y="837.35" width="29.34" height="382.15"/><rect x="1527.29" y="853.16" width="29.34" height="366.34"/><rect x="1554.25" y="879.07" width="29.34" height="340.43"/><rect x="1581.21" y="899.4" width="29.34" height="320.1"/><rect x="1608.17" y="909.67" width="29.33" height="309.83"/><rect x="1635.13" y="922.23" width="29.34" height="297.27"/><rect x="1662.09" y="948.89" width="29.34" height="270.61"/><rect x="1689.05" y="994.56" width="29.34" height="224.94"/><rect x="1716.01" y="1008.81" width="29.33" height="210.69"/><rect x="1742.97" y="997.84" width="29.34" height="221.66"/><rect x="1769.93" y="1038.81" width="29.34" height="180.69"/><rect x="1796.89" y="1061.58" width="29.34" height="157.92"/><rect x="1823.85" y="1083.06" width="29.34" height="136.44"/><rect x="1850.81" y="1141.56" width="29.34" height="77.94"/><rect x="1877.77" y="1115.68" width="29.34" height="103.82"/><rect x="1904.73" y="1115.68" width="29.34" height="103.82"/><rect x="1931.69" y="1185.81" width="29.34" height="33.69"/></g><g clip-path="url(#hp4green)"><path d="M1173 833.27L1695.24 311.03M1173 861.77L1695.24 339.53M1173 890.27L1695.24 368.03M1173 918.77L1695.24 396.53M1173 947.27L1695.24 425.03M1173 975.77L1695.24 453.53M1173 1004.27L1695.24 482.03M1173 1032.77L1695.24 510.53M1173 1061.27L1695.24 539.03M1173 1089.77L1695.24 567.53M1173 1118.27L1695.24 596.03M1173 1146.77L1695.24 624.53M1173 1175.27L1695.24 653.03M1173 1203.77L1695.24 681.53M1173 1232.27L1695.24 710.03M1173 1260.77L1695.24 738.53M1173 1289.27L1695.24 767.03M1173 1317.77L1695.24 795.53M1173 1346.27L1695.24 824.03M1173 1374.77L1695.24 852.53M1173 1403.27L1695.24 881.03M1173 1431.77L1695.24 909.53M1173 1460.27L1695.24 938.03M1173 1488.77L1695.24 966.53M1173 1517.27L1695.24 995.03M1173 1545.77L1695.24 1023.53M1173 1574.27L1695.24 1052.03M1173 1602.77L1695.24 1080.53M1173 1631.27L1695.24 1109.03M1173 1659.77L1695.24 1137.53M1173 1688.27L1695.24 1166.03M1173 1716.77L1695.24 1194.53M1173 1745.27L1695.24 1223.03M1173 1773.77L1695.24 1251.53" stroke="#008000" stroke-width="2.38" fill="none"/></g><path d="M1178 1229.5L1178 1229.5L1204.96 1229.5L1204.96 1229.5L1231.92 1229.5L1231.92 1142.75L1258.88 1142.75L1258.88 954.44L1285.84 954.44L1285.84 870.48L1312.8 870.48L1312.8 866.69L1339.76 866.69L1339.76 873.32L1366.72 873.32L1366.72 900.51L1393.68 900.51L1393.68 898.67L1420.64 898.67L1420.64 927.45L1447.6 927.45L1447.6 948.23L1474.56 948.23L1474.56 969.44L1501.52 969.44L1501.52 954.77L1528.48 954.77L1528.48 968.18L1555.44 968.18L1555.44 989.66L1582.4 989.66L1582.4 1054.25L1609.36 1054.25L1609.36 1084.25L1636.32 1084.25L1636.32 1142.75L1663.28 1142.75L1663.28 1187L1690.24 1187L1690.24 1229.5" fill="none" stroke="#008000" stroke-width="7.12" stroke-linejoin="miter" stroke-miterlimit="10"/><g clip-path="url(#hp4purple)"><path d="M1173 201.9L1749.16 778.06M1173 230.4L1749.16 806.56M1173 258.9L1749.16 835.06M1173 287.4L1749.16 863.56M1173 315.9L1749.16 892.06M1173 344.4L1749.16 920.56M1173 372.9L1749.16 949.06M1173 401.4L1749.16 977.56M1173 429.9L1749.16 1006.06M1173 458.4L1749.16 1034.56M1173 486.9L1749.16 1063.06M1173 515.4L1749.16 1091.56M1173 543.9L1749.16 1120.06M1173 572.4L1749.16 1148.56M1173 600.9L1749.16 1177.06M1173 629.4L1749.16 1205.56M1173 657.9L1749.16 1234.06M1173 686.4L1749.16 1262.56M1173 714.9L1749.16 1291.06M1173 743.4L1749.16 1319.56M1173 771.9L1749.16 1348.06M1173 800.4L1749.16 1376.56M1173 828.9L1749.16 1405.06M1173 857.4L1749.16 1433.56M1173 885.9L1749.16 1462.06M1173 914.4L1749.16 1490.56M1173 942.9L1749.16 1519.06M1173 971.4L1749.16 1547.56M1173 999.9L1749.16 1576.06M1173 1028.4L1749.16 1604.56M1173 1056.9L1749.16 1633.06M1173 1085.4L1749.16 1661.56M1173 1113.9L1749.16 1690.06M1173 1142.4L1749.16 1718.56M1173 1170.9L1749.16 1747.06M1173 1199.4L1749.16 1775.56M1173 1227.9L1749.16 1804.06M1173 1256.4L1749.16 1832.56" stroke="#9467bd" stroke-width="2.38" fill="none"/></g><path d="M1178 1229.5L1178 1229.5L1204.96 1229.5L1204.96 1229.5L1231.92 1229.5L1231.92 1116.86L1258.88 1116.86L1258.88 893.71L1285.84 893.71L1285.84 814.5L1312.8 814.5L1312.8 822.8L1339.76 822.8L1339.76 828.35L1366.72 828.35L1366.72 843.48L1393.68 843.48L1393.68 847.61L1420.64 847.61L1420.64 874.13L1447.6 874.13L1447.6 896.41L1474.56 896.41L1474.56 916.69L1501.52 916.69L1501.52 958.58L1528.48 958.58L1528.48 984.11L1555.44 984.11L1555.44 1023.25L1582.4 1023.25L1582.4 1006.12L1609.36 1006.12L1609.36 1054.25L1636.32 1054.25L1636.32 1142.75L1663.28 1142.75L1663.28 1116.86L1690.24 1116.86L1690.24 1187L1717.2 1187L1717.2 1187L1744.16 1187L1744.16 1229.5" fill="none" stroke="#9467bd" stroke-width="7.12" stroke-linejoin="miter" stroke-miterlimit="10"/></g><rect x="1139.75" y="717.9" width="859.6" height="491.6" fill="none" stroke="#000" stroke-width="1.9" stroke-linejoin="miter"/><path d="M1178.03 1209.5v8.31M1325.55 1209.5v8.31M1473.07 1209.5v8.31M1620.59 1209.5v8.31M1768.11 1209.5v8.31M1915.63 1209.5v8.31M1139.75 1187h-8.31M1139.75 1040h-8.31M1139.75 893h-8.31M1139.75 746h-8.31" stroke="#000" stroke-width="1.9" fill="none"/><path d="M1145.3 1209.5v4.75M1155.18 1209.5v4.75M1163.73 1209.5v4.75M1171.28 1209.5v4.75M1222.44 1209.5v4.75M1248.41 1209.5v4.75M1266.85 1209.5v4.75M1281.14 1209.5v4.75M1292.82 1209.5v4.75M1302.7 1209.5v4.75M1311.25 1209.5v4.75M1318.8 1209.5v4.75M1369.96 1209.5v4.75M1395.93 1209.5v4.75M1414.37 1209.5v4.75M1428.66 1209.5v4.75M1440.34 1209.5v4.75M1450.22 1209.5v4.75M1458.77 1209.5v4.75M1466.32 1209.5v4.75M1517.48 1209.5v4.75M1543.45 1209.5v4.75M1561.89 1209.5v4.75M1576.18 1209.5v4.75M1587.86 1209.5v4.75M1597.74 1209.5v4.75M1606.29 1209.5v4.75M1613.84 1209.5v4.75M1665 1209.5v4.75M1690.97 1209.5v4.75M1709.41 1209.5v4.75M1723.7 1209.5v4.75M1735.38 1209.5v4.75M1745.26 1209.5v4.75M1753.81 1209.5v4.75M1761.36 1209.5v4.75M1812.52 1209.5v4.75M1838.49 1209.5v4.75M1856.93 1209.5v4.75M1871.22 1209.5v4.75M1882.9 1209.5v4.75M1892.78 1209.5v4.75M1901.33 1209.5v4.75M1908.88 1209.5v4.75M1960.04 1209.5v4.75M1986.01 1209.5v4.75M1139.75 1201.25h-4.75M1139.75 1193.73h-4.75M1139.75 1142.75h-4.75M1139.75 1116.86h-4.75M1139.75 1098.5h-4.75M1139.75 1084.25h-4.75M1139.75 1072.61h-4.75M1139.75 1062.77h-4.75M1139.75 1054.25h-4.75M1139.75 1046.73h-4.75M1139.75 995.75h-4.75M1139.75 969.86h-4.75M1139.75 951.5h-4.75M1139.75 937.25h-4.75M1139.75 925.61h-4.75M1139.75 915.77h-4.75M1139.75 907.25h-4.75M1139.75 899.73h-4.75M1139.75 848.75h-4.75M1139.75 822.86h-4.75M1139.75 804.5h-4.75M1139.75 790.25h-4.75M1139.75 778.61h-4.75M1139.75 768.77h-4.75M1139.75 760.25h-4.75M1139.75 752.73h-4.75" stroke="#000" stroke-width="1.43" fill="none"/><g font-family="'DejaVu Serif', serif" font-size="33.5" fill="#000"><text x="1178.03" y="1251.5" text-anchor="middle">10<tspan font-size="23.45" dy="-12">−1</tspan></text><text x="1325.55" y="1251.5" text-anchor="middle">10<tspan font-size="23.45" dy="-12">0</tspan></text><text x="1473.07" y="1251.5" text-anchor="middle">10<tspan font-size="23.45" dy="-12">1</tspan></text><text x="1620.59" y="1251.5" text-anchor="middle">10<tspan font-size="23.45" dy="-12">2</tspan></text><text x="1768.11" y="1251.5" text-anchor="middle">10<tspan font-size="23.45" dy="-12">3</tspan></text><text x="1915.63" y="1251.5" text-anchor="middle">10<tspan font-size="23.45" dy="-12">4</tspan></text><text x="1120.95" y="1198.75" text-anchor="end">10<tspan font-size="23.45" dy="-12">0</tspan></text><text x="1120.95" y="1051.75" text-anchor="end">10<tspan font-size="23.45" dy="-12">1</tspan></text><text x="1120.95" y="904.75" text-anchor="end">10<tspan font-size="23.45" dy="-12">2</tspan></text><text x="1120.95" y="757.75" text-anchor="end">10<tspan font-size="23.45" dy="-12">3</tspan></text></g><text x="1569.55" y="1298.9" text-anchor="middle" font-family="'DejaVu Serif', serif" font-size="33.5">Integrated flux (K km s<tspan font-family="'DejaVu Sans', sans-serif" font-size="23.45" dy="-13">−1</tspan><tspan dy="13"> armin</tspan><tspan font-family="'DejaVu Sans', sans-serif" font-size="23.45" dy="-13">2</tspan><tspan dy="13">)</tspan></text><text transform="translate(1045.95 963.7) rotate(-90)" x="0" y="0" text-anchor="middle" font-family="'DejaVu Serif', serif" font-size="33.5"><tspan font-family="'DejaVu Sans', sans-serif" font-size="23.45" dy="-13">13</tspan><tspan dy="13">CO structure number</tspan></text><rect x="124.4" y="1.1" width="858.7" height="59.3" rx="6.65" ry="6.65" fill="#fff" stroke="#d6d6d6" stroke-width="2.38"/><rect x="136.01" y="15.41" width="68.88" height="25.67" fill="#000000" fill-opacity="0.2235"/><g clip-path="url(#lg1)"><path d="M459.7 -34.45L536.2 -110.95M459.7 -5.95L536.2 -82.45M459.7 22.55L536.2 -53.95M459.7 51.05L536.2 -25.45M459.7 79.55L536.2 3.05M459.7 108.05L536.2 31.55M459.7 136.55L536.2 60.05M459.7 165.05L536.2 88.55" stroke="#008000" stroke-width="2.38" fill="none"/></g><rect x="464.7" y="16.6" width="66.5" height="23.3" fill="none" stroke="#008000" stroke-width="7.12"/><g clip-path="url(#lg2)"><path d="M764.4 -96.25L840.9 -19.75M764.4 -67.75L840.9 8.75M764.4 -39.25L840.9 37.25M764.4 -10.75L840.9 65.75M764.4 17.75L840.9 94.25M764.4 46.25L840.9 122.75M764.4 74.75L840.9 151.25" stroke="#9467bd" stroke-width="2.38" fill="none"/></g><rect x="769.4" y="16.6" width="66.5" height="23.3" fill="none" stroke="#9467bd" stroke-width="7.12"/><text x="231.3" y="40.4" font-family="'DejaVu Serif', serif" font-size="33.5">Multiple</text><text x="557.7" y="40.4" font-family="'DejaVu Serif', serif" font-size="33.5">Double</text><text x="862.5" y="40.4" font-family="'DejaVu Serif', serif" font-size="33.5">Single</text></svg></body></html>
